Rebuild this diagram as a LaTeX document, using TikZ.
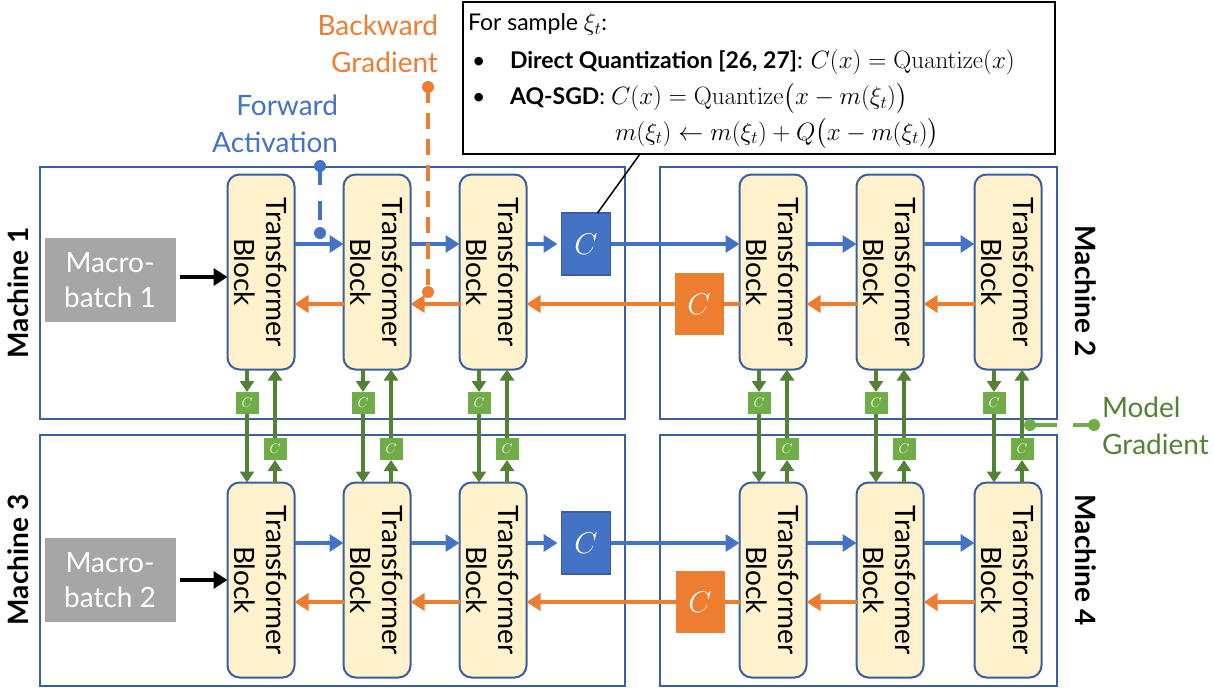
\documentclass[tikz,border=0pt]{standalone}
\usepackage{fix-cm}
\usepackage{amsmath,amssymb}
\usepackage[no-math]{fontspec}
\setmainfont{Lato}
\usepackage{tikz}
\usetikzlibrary{positioning}
\usetikzlibrary{arrows.meta}
\usetikzlibrary{calc}

\newcommand\notemath[1]{{\fontsize{25}{26}\selectfont$#1$}}

\begin{document}
\begin{tikzpicture}[x=1pt, y=-1pt,
    %Option for nice arrows
    >={Triangle[length=14pt, width=17pt]}, %
    inner sep=0pt, outer sep=0pt,%
    machine/.style={draw=frameblue, line width=2pt},
    block/.style={draw=frameblue, line width=2pt, fill=blockfill,
        rounded corners=12pt, minimum width=67pt, minimum height=195pt},
    blocktext/.style={rotate=-90, align=center, font=\fontsize{28}{32}\selectfont},
    batch/.style={fill=batchgray, text=white, align=center,
        minimum width=131pt, minimum height=84pt, font=\fontsize{28}{35}\selectfont},
    mlabel/.style={font=\bfseries\fontsize{28}{32}\selectfont},
    flow/.style={line width=4pt, color=#1},
    gflow/.style={line width=4pt, draw=gradgreen, -{Triangle[length=11pt, width=14pt]}},
    comp/.style={fill=#1, text=white, minimum width=49pt, minimum height=62pt,
        font=\fontsize{30}{30}\selectfont},
    gcomp/.style={fill=lightgreen, text=white, minimum width=23pt, minimum height=22pt,
        font=\fontsize{14}{14}\selectfont},
    hint/.style={font=\fontsize{28}{37}\selectfont, text=#1},
    note/.style={font=\fontsize{23}{26}\selectfont},
]
    % Colors
    \definecolor{fwdblue}{HTML}{4472C4}
    \definecolor{bwdorange}{HTML}{ED7D31}
    \definecolor{gradgreen}{HTML}{548235}
    \definecolor{lightgreen}{HTML}{70AD47}
    \definecolor{blockfill}{HTML}{FFF2CC}
    \definecolor{frameblue}{HTML}{3A5F9E}
    \definecolor{batchgray}{HTML}{A6A6A6}

    \useasboundingbox (0,0) rectangle (1214,690);

    % Machines
    \draw[machine] (40,167) rectangle (625,419);
    \draw[machine] (660,167) rectangle (1057,419);
    \draw[machine] (40,435) rectangle (625,686);
    \draw[machine] (660,435) rectangle (1057,686);
    \node[mlabel, rotate=90]  (m1) at (18,293)   {Machine 1};
    \node[mlabel, rotate=90]  (m3) at (18,560)   {Machine 3};
    \node[mlabel, rotate=-90] (m2) at (1086,291) {Machine 2};
    \node[mlabel, rotate=-90] (m4) at (1086,560) {Machine 4};

    % Transformer blocks
    \foreach \i/\x in {1/261,2/377,3/493,4/773,5/890,6/1008}{
        \node[block] (top\i) at (\x,272) {};
        \node[blocktext] (topt\i) at (top\i) {Transformer\\Block};
        \node[block] (bot\i) at (\x,580) {};
        \node[blocktext] (bott\i) at (bot\i) {Transformer\\Block};
    }

    % Macro-batches
    \node[batch] (batch1) at (110,280) {Macro-\\batch 1};
    \node[batch] (batch2) at (110,580) {Macro-\\batch 2};
    \coordinate (feed1) at ([xshift=4pt, yshift=3pt]batch1.east);
    \coordinate (feed2) at ([xshift=4pt]batch2.east);
    \draw[flow=black, ->] (feed1) -- (feed1 -| top1.west);
    \draw[flow=black, ->] (feed2) -- (feed2 -| bot1.west);

    % Activations and gradients inside a machine
    \foreach \a/\b in {1/2,2/3,4/5,5/6}{
        \draw[flow=fwdblue, ->]   ([yshift=28pt]top\a.east)  -- ([yshift=28pt]top\b.west);
        \draw[flow=fwdblue, ->]   ([yshift=37pt]bot\a.east)  -- ([yshift=37pt]bot\b.west);
        \draw[flow=bwdorange, ->] ([yshift=-32pt]top\b.west) -- ([yshift=-32pt]top\a.east);
        \draw[flow=bwdorange, ->] ([yshift=-22pt]bot\b.west) -- ([yshift=-22pt]bot\a.east);
    }

    % Compression between machines
    \node[comp=fwdblue, draw=frameblue, line width=1.5pt] (cf1) at (586,244) {$C$};
    \node[comp=bwdorange] (cb1) at (699,304) {$C$};
    \node[comp=fwdblue, draw=frameblue, line width=1.5pt] (cf2) at (586,543) {$C$};
    \node[comp=bwdorange] (cb2) at (700,602) {$C$};

    \draw[flow=fwdblue, ->] ([yshift=28pt]top3.east) -- ([xshift=-4pt]cf1.west);
    \draw[flow=fwdblue, ->] (cf1.east) -- (cf1.east -| top4.west);
    \draw[flow=bwdorange]   (cb1.east -| top4.west) -- (cb1.east);
    \draw[flow=bwdorange, ->] (cb1.west) -- (cb1.west -| top3.east);

    \draw[flow=fwdblue, ->] ([yshift=37pt]bot3.east) -- ([xshift=-4pt]cf2.west);
    \draw[flow=fwdblue, ->] (cf2.east) -- (cf2.east -| bot4.west);
    \draw[flow=bwdorange]   (cb2.east -| bot4.west) -- (cb2.east);
    \draw[flow=bwdorange, ->] (cb2.west) -- (cb2.west -| bot3.east);

    % Model gradients between machines
    \foreach \i/\x in {1/261,2/377,3/493,4/773,5/890,6/1008}{
        \node[gcomp] (gd\i) at (\x-14,403) {$C$};
        \node[gcomp] (gu\i) at (\x+14,449) {$C$};
        \draw[gflow] (top\i.south -| gd\i) -- (gd\i.north);
        \draw[gflow] (gd\i.south) -- (gd\i.south |- bot\i.north);
        \draw[gflow] (gu\i.south |- bot\i.north) -- (gu\i.south);
        \draw[gflow] (gu\i.north) -- (gu\i.north |- top\i.south);
    }

    % Forward activation
    \coordinate (fa1) at (320,166);
    \coordinate (fa2) at (320,233);
    \draw[flow=fwdblue, dash pattern=on 19pt off 16pt] (fa1) -- (fa2);
    \fill[fwdblue] (fa1) circle (6pt) (fa2) circle (6pt);
    \node[hint=fwdblue, align=right, anchor=east] (fatext) at (338,124) {Forward\\Activation};

    % Backward gradient
    \coordinate (bg1) at (428,87);
    \coordinate (bg2) at (428,292);
    \draw[flow=bwdorange, dash pattern=on 16pt off 10pt] (bg1) -- (bg2);
    \fill[bwdorange] (bg1) circle (6pt) (bg2) circle (6pt);
    \node[hint=bwdorange, align=right, anchor=east] (bgtext) at (438,44) {Backward\\Gradient};

    % Model gradient
    \coordinate (mg1) at (1030,425);
    \coordinate (mg2) at (1094,425);
    \draw[flow=lightgreen, dash pattern=on 27pt off 16pt] (mg1) -- (mg2);
    \fill[lightgreen] (mg1) circle (6pt) (mg2) circle (6pt);
    \node[hint=gradgreen, align=left, anchor=west] (mgtext) at (1102,426) {Model\\Gradient};

    % Compression rule
    \node[draw=black, line width=2pt, minimum width=592pt, minimum height=152pt] (note) at (759,78) {};
    \coordinate (lead) at ([xshift=-119pt]note.south);
    \draw[line width=1.5pt] ([xshift=-13pt]cf1.north east) -- (lead);

    \node[note, anchor=base west] (n1) at (468,31) {For sample \notemath{\xi_t}:};
    \node[note, anchor=base west] (d2) at (472,69) {\textbullet};
    \node[note, anchor=base west] (n2) at (510,69)
        {\textbf{Direct Quantization [26, 27]}: \notemath{C(x) = \mathrm{Quantize}(x)}};
    \node[note, anchor=base west] (d3) at (472,105) {\textbullet};
    \node[note, anchor=base west] (n3) at (510,105)
        {\textbf{AQ-SGD}: \notemath{C(x) = \mathrm{Quantize}\bigl(x - m(\xi_t)\bigr)}};
    \node[note, anchor=base west] (n4) at (615,140)
        {\notemath{m(\xi_t) \leftarrow m(\xi_t) + Q\bigl(x - m(\xi_t)\bigr)}};

\end{tikzpicture}
\end{document}
